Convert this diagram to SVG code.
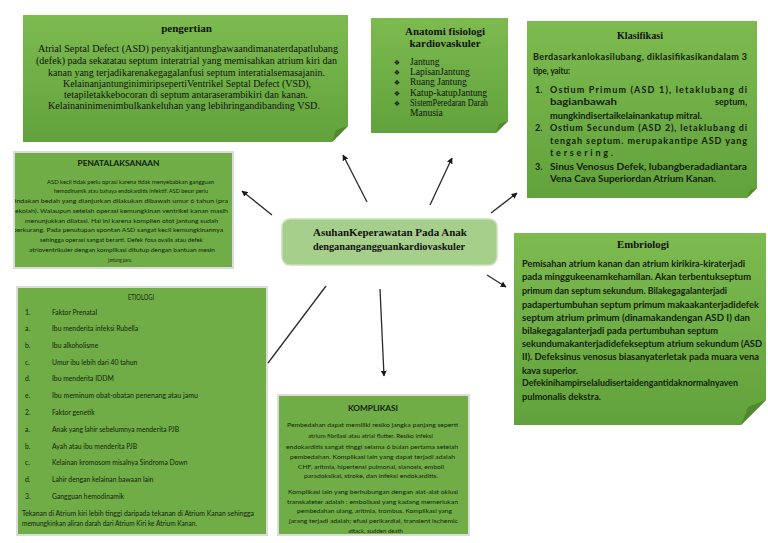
<svg xmlns="http://www.w3.org/2000/svg" width="768" height="543" viewBox="0 0 768 543">
<defs>
<linearGradient id="gg" x1="0" y1="0" x2="0" y2="1">
<stop offset="0" stop-color="#7dbb50"/>
<stop offset="1" stop-color="#62a23c"/>
</linearGradient>
<marker id="ah" viewBox="0 0 10 10" refX="9" refY="5" markerWidth="6" markerHeight="6" orient="auto" markerUnits="userSpaceOnUse">
<path d="M0,0 L10,5 L0,10 Z" fill="#1a1a1a"/>
</marker>
<clipPath id="cpP"><rect x="15" y="152" width="218" height="116"/></clipPath>
</defs>
<style>
.ser{font-family:"Liberation Serif","Times New Roman",serif;fill:#111}
.serb{font-family:"Liberation Serif","Times New Roman",serif;font-weight:bold;fill:#111}
.cal{font-family:Lato,"Liberation Sans",sans-serif;fill:#15230c}
.calb{font-family:Lato,"Liberation Sans",sans-serif;font-weight:bold;fill:#13200a}
.flat{fill:#70ad47;stroke:#dcdcdc;stroke-width:2}
.fold{fill:#4f8a2c}
.con{stroke:#2a2a2a;stroke-width:1.3;fill:none}
</style>
<rect width="768" height="543" fill="#ffffff"/>

<g id="pengertian">
<path d="M23,15 H348 V126 L332,142 H23 Z" fill="url(#gg)"/>
<path d="M348,126 L332,142 L336,130 Z" class="fold"/>
<text class="serb" x="186.5" y="32" font-size="11" text-anchor="middle">pengertian</text>
<g class="ser" font-size="10.5" text-anchor="middle">
<text x="188" y="52" textLength="300" lengthAdjust="spacingAndGlyphs">Atrial Septal Defect (ASD) penyakitjantungbawaandimanaterdapatlubang</text>
<text x="186.5" y="64" textLength="301" lengthAdjust="spacingAndGlyphs">(defek) pada sekatatau septum interatrial yang memisahkan atrium kiri dan</text>
<text x="186.5" y="76" textLength="277" lengthAdjust="spacingAndGlyphs">kanan yang terjadikarenakegagalanfusi septum interatialsemasajanin.</text>
<text x="187" y="87" textLength="248" lengthAdjust="spacingAndGlyphs">KelainanjantunginimiripsepertiVentrikel Septal Defect (VSD),</text>
<text x="186" y="98" textLength="244" lengthAdjust="spacingAndGlyphs">tetapiletakkebocoran di septum antaraserambikiri dan kanan.</text>
<text x="184" y="109" textLength="272" lengthAdjust="spacingAndGlyphs">Kelainaninimenimbulkankeluhan yang lebihringandibanding VSD.</text>
</g>
</g>

<g id="anatomi">
<path d="M371,18 H508 V121 L496,133 H371 Z" fill="url(#gg)"/>
<path d="M508,121 L496,133 L499,124 Z" class="fold"/>
<text class="serb" x="445" y="35" font-size="11" text-anchor="middle" textLength="80" lengthAdjust="spacingAndGlyphs">Anatomi fisiologi</text>
<text class="serb" x="445" y="47" font-size="11" text-anchor="middle" textLength="71" lengthAdjust="spacingAndGlyphs">kardiovaskuler</text>
<g font-family="DejaVu Sans,sans-serif" font-size="7" fill="#111" text-anchor="middle">
<text x="397" y="65">❖</text><text x="397" y="75">❖</text><text x="397" y="85">❖</text><text x="397" y="96">❖</text><text x="397" y="106">❖</text>
</g>
<g class="ser" font-size="9.5">
<text x="410" y="65">Jantung</text>
<text x="410" y="75">LapisanJantung</text>
<text x="410" y="85">Ruang Jantung</text>
<text x="410" y="96">Katup-katupJantung</text>
<text x="410" y="106" textLength="78" lengthAdjust="spacingAndGlyphs">SistemPeredaran Darah</text>
<text x="410" y="116">Manusia</text>
</g>
</g>

<g id="klasifikasi">
<path d="M527,21 H757 V188 L747,198 H527 Z" fill="url(#gg)"/>
<path d="M757,188 L747,198 L750,190 Z" class="fold"/>
<text class="serb" x="640" y="39" font-size="10.5" text-anchor="middle" textLength="46" lengthAdjust="spacingAndGlyphs">Klasifikasi</text>
<g class="calb" font-size="9">
<text x="533" y="60" textLength="214" lengthAdjust="spacing">Berdasarkanlokasilubang, diklasifikasikandalam 3</text>
<text x="533" y="74" textLength="37" lengthAdjust="spacingAndGlyphs">tipe, yaitu:</text>
<text x="535" y="93">1.</text>
<text x="550" y="93" textLength="197" lengthAdjust="spacing">Ostium Primum (ASD 1), letaklubang di</text>
<text x="550" y="105" textLength="67" lengthAdjust="spacingAndGlyphs">bagianbawah</text>
<text x="747" y="105" text-anchor="end">septum,</text>
<text x="550" y="119" textLength="152" lengthAdjust="spacingAndGlyphs">mungkindisertaikelainankatup mitral.</text>
<text x="535" y="131">2.</text>
<text x="550" y="131" textLength="197" lengthAdjust="spacing">Ostium Secundum (ASD 2), letaklubang di</text>
<text x="550" y="144" textLength="197" lengthAdjust="spacing">tengah septum. merupakantipe ASD yang</text>
<text x="550" y="156" textLength="63" lengthAdjust="spacing">tersering.</text>
<text x="535" y="170">3.</text>
<text x="550" y="170" textLength="197" lengthAdjust="spacingAndGlyphs">Sinus Venosus Defek, lubangberadadiantara</text>
<text x="550" y="182" textLength="166" lengthAdjust="spacingAndGlyphs">Vena Cava Superiordan Atrium Kanan.</text>
</g>
</g>

<g id="penatalaksanaan">
<rect x="14" y="152" width="219" height="116" class="flat"/>
<text class="calb" x="118.5" y="166" font-size="8" text-anchor="middle" textLength="82" lengthAdjust="spacingAndGlyphs">PENATALAKSANAAN</text>
<g class="cal" font-size="6.5" clip-path="url(#cpP)">
<text x="47" y="183.5" textLength="167" lengthAdjust="spacingAndGlyphs">ASD kecil tidak perlu oprasi karena tidak menyebabkan gangguan</text>
<text x="54" y="193.3" textLength="154" lengthAdjust="spacingAndGlyphs">hemodinamik atau bahaya endokarditis infektif. ASD besar perlu</text>
<text x="12" y="203" textLength="216" lengthAdjust="spacingAndGlyphs">tindakan bedah yang dianjurkan dilakukan dibawah umur 6 tahun (pra</text>
<text x="12" y="212.8" textLength="216" lengthAdjust="spacingAndGlyphs">sekolah). Walaupun setelah operasi kemungkinan ventrikel kanan masih</text>
<text x="25" y="222.5" textLength="193" lengthAdjust="spacingAndGlyphs">menunjukkan dilatasi. Hal ini karena komplien otot jantung sudah</text>
<text x="13" y="232.3" textLength="210" lengthAdjust="spacingAndGlyphs">berkurang. Pada penutupan spontan ASD sangat kecil kemungkinannya</text>
<text x="40" y="242" textLength="163" lengthAdjust="spacingAndGlyphs">sehingga operasi sangat berarti. Defek fosa ovalis atau defek</text>
<text x="29" y="251.8" textLength="186" lengthAdjust="spacingAndGlyphs">atrioventrikuler dengan komplikasi ditutup dengan bantuan mesin</text>
<text x="108" y="261.5" textLength="24" lengthAdjust="spacingAndGlyphs">jantung paru.</text>
</g>
</g>

<g id="center">
<rect x="282" y="219" width="215" height="46" rx="8" ry="8" fill="#a6cf8b" stroke="#c6e1b5" stroke-width="1.5"/>
<text class="serb" x="390" y="236" font-size="11" text-anchor="middle" textLength="154" lengthAdjust="spacingAndGlyphs">AsuhanKeperawatan Pada Anak</text>
<text class="serb" x="389" y="250" font-size="11" text-anchor="middle" textLength="152" lengthAdjust="spacingAndGlyphs">denganangangguankardiovaskuler</text>
</g>

<g id="embriologi">
<path d="M514,233 H766 V400 L741,425 H514 Z" fill="url(#gg)"/>
<path d="M766,400 L741,425 L748,407 Z" class="fold"/>
<text class="serb" x="643" y="248" font-size="11" text-anchor="middle" textLength="52" lengthAdjust="spacingAndGlyphs">Embriologi</text>
<g class="calb" font-size="9">
<text x="522" y="267" textLength="223" lengthAdjust="spacingAndGlyphs">Pemisahan atrium kanan dan atrium kirikira-kiraterjadi</text>
<text x="522" y="280" textLength="229" lengthAdjust="spacingAndGlyphs">pada minggukeenamkehamilan. Akan terbentukseptum</text>
<text x="522" y="294" textLength="205" lengthAdjust="spacingAndGlyphs">primum dan septum sekundum. Bilakegagalanterjadi</text>
<text x="522" y="308" textLength="237" lengthAdjust="spacingAndGlyphs">padapertumbuhan septum primum makaakanterjadidefek</text>
<text x="522" y="321" textLength="228" lengthAdjust="spacingAndGlyphs">septum atrium primum (dinamakandengan ASD I) dan</text>
<text x="522" y="334" textLength="196" lengthAdjust="spacingAndGlyphs">bilakegagalanterjadi pada pertumbuhan septum</text>
<text x="522" y="347" textLength="240" lengthAdjust="spacingAndGlyphs">sekundumakanterjadidefekseptum atrium sekundum (ASD</text>
<text x="522" y="360" textLength="237" lengthAdjust="spacingAndGlyphs">II). Defeksinus venosus biasanyaterletak pada muara vena</text>
<text x="522" y="374" textLength="56" lengthAdjust="spacingAndGlyphs">kava superior.</text>
<text x="522" y="386" textLength="216" lengthAdjust="spacingAndGlyphs">Defekinihampirselaludisertaidengantidaknormalnyaven</text>
<text x="522" y="400" textLength="79" lengthAdjust="spacingAndGlyphs">pulmonalis dekstra.</text>
</g>
</g>

<g id="etiologi">
<rect x="17" y="287" width="250" height="248" class="flat"/>
<text class="cal" x="141" y="299.5" font-size="7" text-anchor="middle" textLength="26" lengthAdjust="spacingAndGlyphs">ETIOLOGI</text>
<g class="cal" font-size="6.8">
<text x="25" y="314.5">1.</text><text x="52" y="314.5">Faktor Prenatal</text>
<text x="25" y="331">a.</text><text x="52" y="331">Ibu menderita infeksi Rubella</text>
<text x="25" y="348">b.</text><text x="52" y="348">Ibu alkoholisme</text>
<text x="25" y="365">c.</text><text x="52" y="365">Umur ibu lebih dari 40 tahun</text>
<text x="25" y="381">d.</text><text x="52" y="381">Ibu menderita IDDM</text>
<text x="25" y="398">e.</text><text x="52" y="398" textLength="146" lengthAdjust="spacingAndGlyphs">Ibu meminum obat-obatan penenang atau jamu</text>
<text x="25" y="415">2.</text><text x="52" y="415">Faktor genetik</text>
<text x="25" y="432">a.</text><text x="52" y="432">Anak yang lahir sebelumnya menderita PJB</text>
<text x="25" y="448.5">b.</text><text x="52" y="448.5">Ayah atau ibu menderita PJB</text>
<text x="25" y="465">c.</text><text x="52" y="465">Kelainan kromosom misalnya Sindroma  Down</text>
<text x="25" y="482">d.</text><text x="52" y="482">Lahir dengan kelainan bawaan lain</text>
<text x="25" y="498.5">3.</text><text x="52" y="498.5">Gangguan hemodinamik</text>
<text x="22" y="515.5" textLength="232" lengthAdjust="spacingAndGlyphs">Tekanan di Atrium kiri lebih tinggi daripada tekanan  di Atrium  Kanan sehingga</text>
<text x="22" y="526" textLength="175" lengthAdjust="spacingAndGlyphs">memungkinkan aliran darah dari Atrium Kiri ke  Atrium Kanan.</text>
</g>
</g>

<g id="komplikasi">
<rect x="278" y="395" width="191" height="140" class="flat"/>
<text class="calb" x="373" y="411" font-size="8" text-anchor="middle" textLength="50" lengthAdjust="spacingAndGlyphs">KOMPLIKASI</text>
<g class="cal" font-size="6.5" text-anchor="middle">
<text x="372.5" y="426.5" textLength="171" lengthAdjust="spacingAndGlyphs">Pembedahan dapat memiliki resiko jangka panjang seperti</text>
<text x="370.5" y="437.5" textLength="125" lengthAdjust="spacingAndGlyphs">atrium fibrilasi atau atrial flutter. Resiko infeksi</text>
<text x="372" y="448.5" textLength="172" lengthAdjust="spacingAndGlyphs">endokarditis sangat tinggi selama 6 bulan pertama setelah</text>
<text x="372.5" y="458.5" textLength="165" lengthAdjust="spacingAndGlyphs">pembedahan. Komplikasi lain yang dapat terjadi adalah</text>
<text x="371" y="468.5" textLength="146" lengthAdjust="spacingAndGlyphs">CHF, aritmia, hipertensi pulmonal, sianosis, emboli</text>
<text x="371" y="478" textLength="134" lengthAdjust="spacingAndGlyphs">paradoksikal, stroke, dan infeksi endokarditis.</text>
<text x="373" y="493.5" textLength="170" lengthAdjust="spacingAndGlyphs">Komplikasi lain yang berhubungan dengan alat-alat oklusi</text>
<text x="372.5" y="503.5" textLength="171" lengthAdjust="spacingAndGlyphs">transkateter adalah : embolisasi yang kadang memerlukan</text>
<text x="374.5" y="513" textLength="155" lengthAdjust="spacingAndGlyphs">pembedahan ulang, aritmia, trombus. Komplikasi yang</text>
<text x="373.5" y="523" textLength="169" lengthAdjust="spacingAndGlyphs">jarang terjadi adalah; efusi perikardial, transient ischemic</text>
<text x="375.5" y="533" textLength="55" lengthAdjust="spacingAndGlyphs">attack, sudden death</text>
</g>
</g>

<g id="connectors">
<line class="con" x1="272" y1="215" x2="242" y2="191" marker-end="url(#ah)"/>
<line class="con" x1="367" y1="202" x2="343" y2="155" marker-end="url(#ah)"/>
<line class="con" x1="430" y1="205" x2="452" y2="158" marker-end="url(#ah)"/>
<line class="con" x1="491" y1="213" x2="517" y2="193" marker-end="url(#ah)"/>
<line class="con" x1="487" y1="275" x2="506" y2="287" marker-end="url(#ah)"/>
<line class="con" x1="380" y1="289" x2="384" y2="376" marker-end="url(#ah)"/>
<line class="con" x1="326" y1="286" x2="268" y2="363"/>
</g>
</svg>
